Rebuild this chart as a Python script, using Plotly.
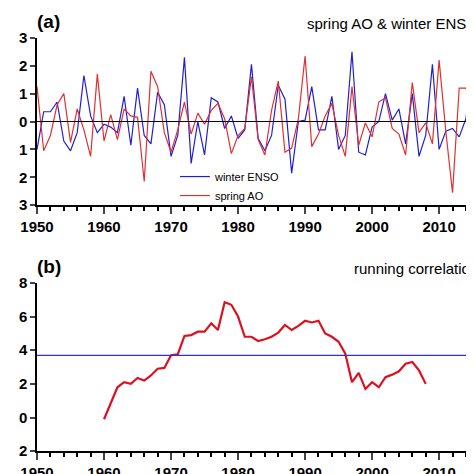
import plotly.graph_objects as go

years_a = list(range(1950, 2017))
enso = [-1.0,0.35,0.35,0.7,-0.7,-1.05,-0.4,1.65,0.2,-0.4,-0.1,-0.2,-0.4,0.9,-0.85,1.2,-0.5,-0.8,1.05,0.6,
        -1.25,-0.5,2.3,-1.5,0.0,-1.2,0.85,0.7,-0.25,0.2,-0.6,-0.3,2.05,-0.6,-1.05,-0.5,1.3,0.8,-1.85,0.0,
        0.05,1.25,-0.3,-0.3,0.9,-1.0,-0.5,2.5,-1.1,-1.2,-0.2,0.0,1.0,0.05,0.45,-0.8,1.0,-1.25,-0.5,2.05,
        -1.0,-0.35,-0.25,-0.55,0.1,2.1,1.1]
ao = [1.25,-1.05,-0.5,0.6,1.0,-0.75,0.45,-0.3,-1.25,1.7,-0.7,0.25,-0.65,0.45,0.2,0.15,-2.15,1.8,1.25,-0.4,
      -1.1,-0.3,0.7,-0.45,0.3,-0.1,0.4,0.65,0.1,-1.15,-0.5,-0.25,1.6,-0.65,-1.2,0.4,1.45,-1.1,-0.95,0.1,
      2.35,-0.9,-0.45,0.2,0.65,-0.5,-1.25,1.25,-0.85,-0.05,-0.55,0.7,0.85,-0.25,-0.45,-1.2,1.4,-0.4,-0.05,-0.8,
      2.2,-0.35,-2.55,1.2,1.2,0.5,0.3]
years_b = list(range(1960, 2009))
runcorr = [-0.01,0.08,0.18,0.21,0.2,0.235,0.22,0.25,0.29,0.295,0.37,0.375,0.485,0.49,0.51,0.51,0.56,0.52,
           0.685,0.67,0.6,0.48,0.48,0.455,0.465,0.48,0.505,0.55,0.52,0.545,0.575,0.565,0.575,0.5,0.48,0.45,
           0.38,0.21,0.265,0.17,0.21,0.18,0.24,0.255,0.275,0.32,0.33,0.28,0.2]
signif = 0.37
xticks = [1950,1960,1970,1980,1990,2000,2010]
ya_vals = [-3,-2,-1,0,1,2,3]
ya_text = ["3","2","1","0","1","2","3"]
yb_vals = [-0.2,0,0.2,0.4,0.6,0.8]
yb_text = ["2","0","2","4","6","8"]

F = "Liberation Sans"
fig = go.Figure()
fig.add_trace(go.Scatter(x=years_a, y=enso, mode="lines", line=dict(color="#2020d0", width=1.2),
                         name="winter ENSO", xaxis="x", yaxis="y"))
fig.add_trace(go.Scatter(x=years_a, y=ao, mode="lines", line=dict(color="#e03030", width=1.2),
                         name="spring AO", xaxis="x", yaxis="y"))
fig.add_trace(go.Scatter(x=years_b, y=runcorr, mode="lines", line=dict(color="#dd1020", width=2.2),
                         showlegend=False, xaxis="x2", yaxis="y2"))
fig.add_hline(y=0, line=dict(color="black", width=1), xref="x", yref="y")
fig.add_hline(y=signif, line=dict(color="#3030d0", width=1.2), yref="y2")

xr = [1950, 2016.4]
common_x = dict(range=xr, tickvals=xticks, ticks="outside", ticklen=7, tickwidth=1.5, showgrid=False,
                zeroline=False, showline=True, linecolor="black", linewidth=1.5, automargin=False,
                minor=dict(dtick=2, ticks="outside", ticklen=4, tickcolor="black"),
                tickfont=dict(family=F, size=15, color="black", weight="bold"))
common_y = dict(ticks="outside", ticklen=5, tickwidth=1.5, showgrid=False, zeroline=False, showline=True,
                linecolor="black", linewidth=1.5, mirror=True, automargin=False,
                tickfont=dict(family=F, size=15, color="black", weight="bold"))
fig.update_layout(
    width=474, height=474, margin=dict(l=29, r=0, t=0, b=0, autoexpand=False),
    paper_bgcolor="white", plot_bgcolor="white",
    xaxis=dict(domain=[0, 1], anchor="y", **common_x),
    yaxis=dict(domain=[0.584, 0.937], range=[-3, 3], tickvals=ya_vals, ticktext=ya_text, anchor="x", **common_y),
    xaxis2=dict(domain=[0, 1], anchor="y2", **common_x),
    yaxis2=dict(domain=[0.065, 0.42], range=[-0.2, 0.8], tickvals=yb_vals, ticktext=yb_text, anchor="x2", **common_y),
    legend=dict(x=0.31, y=0.675, xanchor="left", yanchor="top", bgcolor="rgba(0,0,0,0)",
                font=dict(family=F, size=11, color="black"), tracegroupgap=0, itemwidth=30),
    showlegend=True,
    annotations=[
        dict(text="(a)", x=-0.005, y=0.945, xref="paper", yref="paper", xanchor="left", yanchor="bottom",
             showarrow=False, font=dict(family=F, size=19, color="black", weight="bold")),
        dict(text="spring AO & winter ENSO", x=0.995, y=0.945, xref="paper", yref="paper", xanchor="right",
             yanchor="bottom", showarrow=False, font=dict(family=F, size=15, color="black")),
        dict(text="(b)", x=-0.005, y=0.428, xref="paper", yref="paper", xanchor="left", yanchor="bottom",
             showarrow=False, font=dict(family=F, size=19, color="black", weight="bold")),
        dict(text="running correlation", x=0.995, y=0.428, xref="paper", yref="paper", xanchor="right",
             yanchor="bottom", showarrow=False, font=dict(family=F, size=15, color="black")),
    ],
)
fig.write_html("out.html")
